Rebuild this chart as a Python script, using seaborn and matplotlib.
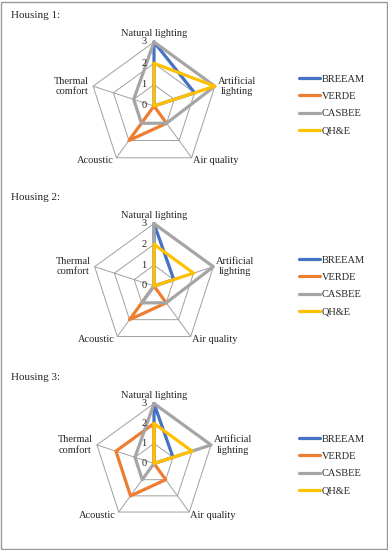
import numpy as np
import pandas as pd
import seaborn as sns
from matplotlib import pyplot as plt
from matplotlib.patches import Rectangle

criteria = ["Natural lighting", "Artificial\nlighting", "Air quality", "Acoustic", "Thermal\ncomfort"]
schemes = ["BREEAM", "VERDE", "CASBEE", "QH&E"]
scheme_colors = ["#4472C4", "#ED7D31", "#A5A5A5", "#FFC000"]
score_ticks = [0, 1, 2, 3]
titles = ["Housing 1:", "Housing 2:", "Housing 3:"]

# scores per criterion, same order as criteria
housing1 = {"BREEAM": [3, 2, 0, 0, 0], "VERDE": [0, 0, 1, 2, 0],
            "CASBEE": [3, 3, 1, 1, 1], "QH&E": [2, 3, 0, 0, 0]}
housing2 = {"BREEAM": [3, 1, 0, 0, 0], "VERDE": [0, 0, 1, 2, 0],
            "CASBEE": [3, 3, 1, 1, 0], "QH&E": [2, 2, 0, 0, 0]}
housing3 = {"BREEAM": [3, 1, 0, 0, 0], "VERDE": [2, 0, 1, 2, 2],
            "CASBEE": [3, 3, 0, 1, 1], "QH&E": [2, 2, 0, 0, 0]}

W, H = 388, 550
GRID = "#a0a0a0"

sns.set_style("white")
plt.rcParams['font.family'] = ['Liberation Serif', 'DejaVu Serif']
plt.rcParams['font.size'] = 7.5


def drawRadar(fig, scores, title, cx, cy, radius, title_y, legend_y):
    fig.text(11 / W, 1 - title_y / H, title, ha='left', va='center', fontsize=8)
    ax = fig.add_axes([(cx - radius) / W, 1 - (cy + radius) / H, 2 * radius / W, 2 * radius / H],
                      projection='polar')
    ax.set_theta_offset(np.pi / 2)
    ax.set_theta_direction(-1)
    angles = np.linspace(0, 2 * np.pi, len(criteria), endpoint=False)
    closed = np.append(angles, 2 * np.pi)

    # pentagon grid + spokes
    for r in score_ticks[1:]:
        ax.plot(closed, [r] * len(closed), color=GRID, lw=0.7, clip_on=False)
    for a in angles:
        ax.plot([a, a], [0, score_ticks[-1]], color=GRID, lw=0.7, clip_on=False)

    rows = []
    for s in schemes:
        vals = scores[s] + scores[s][:1]
        for a, v in zip(closed, vals):
            rows.append({'scheme': s, 'angle': a, 'score': v})
    df = pd.DataFrame(rows)
    sns.lineplot(data=df, x='angle', y='score', hue='scheme', hue_order=schemes,
                 palette=scheme_colors, sort=False, estimator=None, lw=2.3, ax=ax)
    for line in ax.lines:
        line.set_clip_on(False)

    ax.set_ylim(0, score_ticks[-1])
    ax.set_xticks([])
    ax.set_yticks([])
    ax.grid(False)
    ax.spines['polar'].set_visible(False)
    ax.patch.set_alpha(0)
    ax.set_xlabel('')
    ax.set_ylabel('')

    for r in score_ticks:
        ax.annotate(str(r), xy=(0, r), xytext=(-10, 0), textcoords='offset pixels',
                    ha='center', va='center', fontsize=7.5)

    # label offsets in pixels from the outer vertex
    offsets = [(0, 4), (3, 0), (1, -3), (-3, -3), (-4, 0)]
    has = ['center', 'left', 'left', 'right', 'right']
    vas = ['bottom', 'center', 'center', 'center', 'center']
    for a, name, off, ha, va in zip(angles, criteria, offsets, has, vas):
        ax.annotate(name, xy=(a, score_ticks[-1]), xytext=off, textcoords='offset pixels',
                    ha=ha, va=va, multialignment='center', fontsize=7.5)

    sns.move_legend(ax, 'center left', bbox_to_anchor=(299 / W, 1 - legend_y / H),
                    bbox_transform=fig.transFigure, frameon=False, title=None,
                    fontsize=7.5, handlelength=2.0, handletextpad=0.15,
                    labelspacing=0.75, borderpad=0, borderaxespad=0)


fig = plt.figure(figsize=(W / 100, H / 100), dpi=100)
drawRadar(fig, housing1, titles[0], 154, 106, 64, 15, 105)
drawRadar(fig, housing2, titles[1], 154, 286, 62.4, 197, 286)
drawRadar(fig, housing3, titles[2], 154, 463.5, 60, 377, 465)
fig.add_artist(Rectangle((0.5 / W, 1.5 / H), (W - 2) / W, (H - 3) / H,
                         transform=fig.transFigure, fill=False, ec='#999999', lw=1))
fig.savefig('out.png', dpi=100)
